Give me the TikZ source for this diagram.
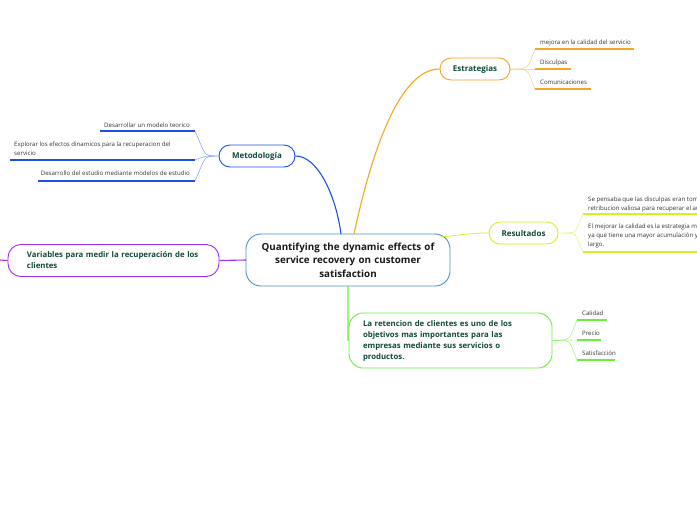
\documentclass[tikz,border=0pt]{standalone}
\usepackage{fontspec}
\setmainfont{Open Sans}
\begin{document}
\begin{tikzpicture}[x=1pt,y=-1pt,
  hub/.style={draw=#1,line width=0.9pt,rounded corners=11pt,fill=white,inner sep=0pt,font=\bfseries\fontsize{8}{10}\selectfont,text=lbl},
  leaf/.style={font=\fontsize{6.1}{8.8}\selectfont,text=leaftxt,inner sep=0pt,align=left},
  uline/.style={line width=1.3pt,draw=#1},
  twig/.style={line width=0.45pt,draw=#1},
  limb/.style={line width=1.1pt,draw=#1}]
\definecolor{lbl}{HTML}{0F4A3A}
\definecolor{leaftxt}{HTML}{333333}
\definecolor{cblue}{HTML}{4A90C8}
\definecolor{mblue}{HTML}{1E50E6}
\definecolor{corange}{HTML}{F5A623}
\definecolor{cyellow}{HTML}{D6F21E}
\definecolor{cgreen}{HTML}{6AEE3A}
\definecolor{cpurple}{HTML}{A52BE8}
\clip (0,0) rectangle (697,520);
\useasboundingbox (0,0) rectangle (697,520);
\fill[white] (0,0) rectangle (697,520);

% connectors from centre
\coordinate (cm) at (341,234);
\coordinate (co) at (354,234);
\coordinate (cy) at (440,237);
\coordinate (cg) at (348,286);
\coordinate (cp) at (246,260);

% central
\node[hub=cblue,minimum width=204pt,minimum height=52pt,rounded corners=15pt,
  text width=196pt,align=center,font=\bfseries\fontsize{9.8}{13.5}\selectfont,text=black!90] (c) at (348,260)
  {Quantifying the dynamic effects of\\service recovery on customer\\satisfaction};

% main branches
\node[hub=mblue,minimum width=76pt,minimum height=22pt] (m) at (257,156) {Metodología};
\node[hub=corange,minimum width=70pt,minimum height=22pt] (e) at (475,69) {Estrategias};
\node[hub=cyellow,minimum width=69pt,minimum height=22pt] (r) at (523.5,233) {Resultados};
\node[hub=cgreen,minimum width=203pt,minimum height=55pt,rounded corners=14pt,
  text width=175pt,align=left,font=\bfseries\fontsize{7.8}{11}\selectfont] (g) at (450.5,340.5)
  {La retencion de clientes es uno de los\\objetivos mas importantes para las\\empresas mediante sus servicios o\\productos.};
\node[hub=cpurple,minimum width=211pt,minimum height=32pt,rounded corners=13pt,
  text width=173pt,align=left,font=\bfseries\fontsize{7.8}{11}\selectfont] (v) at (113.5,260.5)
  {Variables para medir la recuperación de los\\clientes};

\draw[limb=mblue] (cm) .. controls (336,196) and (318,156) .. (m.east);
\draw[limb=corange] (co) .. controls (372,150) and (400,69) .. (e.west);
\draw[twig=cyellow,line width=0.7pt] (cy) .. controls (462,235) and (470,233) .. (r.west);
\draw[limb=cgreen] (cg) -- (348,340) -- (g.west);
\draw[limb=cpurple] (cp) -- (v.east);
\coordinate (pl) at (0,260);
\draw[limb=cpurple] (v.west) -- (pl);

% Metodologia leaves
\coordinate (m1a) at (100,131); \coordinate (m1b) at (195,131);
\coordinate (m2a) at (10,160);  \coordinate (m2b) at (195,160);
\coordinate (m3a) at (38,181);  \coordinate (m3b) at (195,181);
\draw[uline=mblue] (m1a) -- (m1b);
\draw[uline=mblue] (m2a) -- (m2b);
\draw[uline=mblue] (m3a) -- (m3b);
\foreach \t in {m1b,m2b,m3b}
  \draw[twig=mblue!60] (m.west) .. controls (203,156) and (206,156) .. (\t);
\node[leaf,anchor=base east] (lm1) at (190,127) {Desarrollar un modelo teorico};
\node[leaf,anchor=base west] (lm2) at (14,155.5) {Explorar los efectos dinamicos para la recuperacion del\\servicio};
\node[leaf,anchor=base east] (lm3) at (190,175) {Desarrollo del estudio mediante modelos de estudio};

% Estrategias leaves
\coordinate (e1a) at (535,49); \coordinate (e1b) at (634,49);
\coordinate (e2a) at (535,69); \coordinate (e2b) at (571,69);
\coordinate (e3a) at (535,89); \coordinate (e3b) at (591,89);
\draw[uline=corange] (e1a) -- (e1b);
\draw[uline=corange] (e2a) -- (e2b);
\draw[uline=corange] (e3a) -- (e3b);
\foreach \t in {e1a,e2a,e3a}
  \draw[twig=corange!60] (e.east) .. controls (530,69) and (527,69) .. (\t);
\node[leaf,anchor=base west] (le1) at (540,44) {mejora en la calidad del servicio};
\node[leaf,anchor=base west] (le2) at (540,64) {Disculpas};
\node[leaf,anchor=base west] (le3) at (540,84) {Comunicaciones};

% Resultados leaves
\coordinate (r1a) at (583,214); \coordinate (r1b) at (697,214);
\coordinate (r2a) at (583,252); \coordinate (r2b) at (697,252);
\draw[uline=cyellow] (r1a) -- (r1b);
\draw[uline=cyellow] (r2a) -- (r2b);
\foreach \t in {r1a,r2a}
  \draw[twig=cyellow!70] (r.east) .. controls (580,233) and (574,233) .. (\t);
\node[leaf,anchor=base west] (lr1) at (588,210) {Se pensaba que las disculpas eran tom\\retribucion valiosa para recuperar el au};
\node[leaf,anchor=base west] (lr2) at (588,246) {El mejorar la calidad es la estrategia m\\ya que tiene una mayor acumulación y\\largo.};

% green leaves
\coordinate (g1a) at (577,320); \coordinate (g1b) at (607,320);
\coordinate (g2a) at (577,340); \coordinate (g2b) at (601,340);
\coordinate (g3a) at (577,360); \coordinate (g3b) at (615,360);
\draw[uline=cgreen] (g1a) -- (g1b);
\draw[uline=cgreen] (g2a) -- (g2b);
\draw[uline=cgreen] (g3a) -- (g3b);
\foreach \t in {g1a,g2a,g3a}
  \draw[twig=cgreen!70] (g.east) .. controls (572,340) and (569,340) .. (\t);
\node[leaf,anchor=base west] (lg1) at (582,315) {Calidad};
\node[leaf,anchor=base west] (lg2) at (582,335) {Precio};
\node[leaf,anchor=base west] (lg3) at (582,355) {Satisfacción};
\end{tikzpicture}
\end{document}
